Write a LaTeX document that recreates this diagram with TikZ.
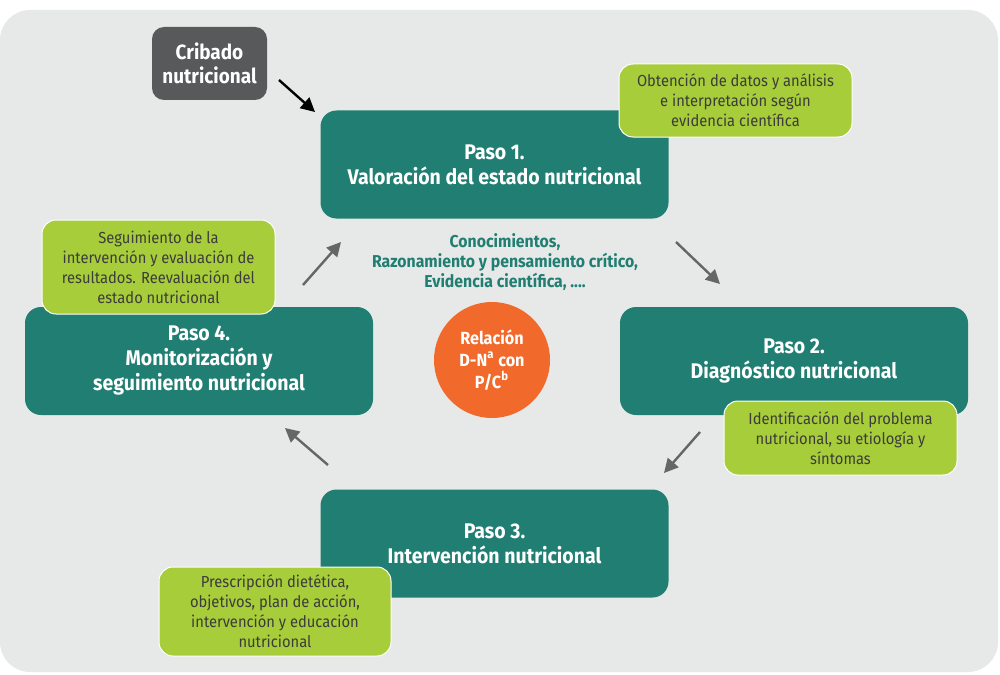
\documentclass[tikz,border=0pt]{standalone}
\usepackage{fontspec}
\setmainfont{Fira Sans}[FakeStretch=0.92]
\usetikzlibrary{arrows.meta}

\definecolor{fondo}{HTML}{E6E9E8}
\definecolor{verdeazul}{HTML}{217E72}
\definecolor{lima}{HTML}{A7CD3A}
\definecolor{grisoscuro}{HTML}{58595B}
\definecolor{naranja}{HTML}{F26A2B}
\definecolor{gristexto}{HTML}{3C3C3B}
\definecolor{grisflecha}{HTML}{666666}

\tikzset{
  paso/.style={fill=verdeazul, rounded corners=8pt, text=white, align=center,
    minimum width=174pt, minimum height=54pt,
    font=\bfseries\fontsize{10.6}{12.5}\selectfont},
  nota/.style={fill=lima, draw=white, line width=0.5pt, rounded corners=7pt,
    text=gristexto, align=center, inner sep=2pt,
    font=\fontsize{8}{10}\selectfont},
  flecha/.style={-{Triangle[length=7pt,width=7pt]}, line width=1.2pt, draw=grisflecha},
}

\begin{document}
\begin{tikzpicture}[x=0.5pt, y=-0.5pt]
  \useasboundingbox (0,0) rectangle (1000,674);
  \fill[fondo, rounded corners=15pt] (0,10) rectangle (998,672);

  % pasos del proceso
  \node[paso] (paso1) at (494.5,164.5) {Paso 1.\\Valoración del estado nutricional};
  \node[paso] (paso2) at (794,361) {Paso 2.\\Diagnóstico nutricional};
  \node[paso] (paso3) at (494.5,543.5) {Paso 3.\\Intervención nutricional};
  \node[paso] (paso4) at (199,361) {Paso 4.\\Monitorización y\\seguimiento nutricional};

  % notas
  \node[nota, minimum width=116.5pt, minimum height=36.5pt] (nota1) at (735.5,100.5)
    {Obtención de datos y análisis\\e interpretación según\\evidencia científica};
  \node[nota, minimum width=116.5pt, minimum height=37pt] (nota2) at (840.5,438)
    {Identificación del problema\\nutricional, su etiología y\\síntomas};
  \node[nota, minimum width=116pt, minimum height=44.5pt] (nota3) at (275,611.5)
    {Prescripción dietética,\\objetivos, plan de acción,\\intervención y educación\\nutricional};
  \node[nota, minimum width=116.5pt, minimum height=47pt] (nota4) at (158.5,267)
    {Seguimiento de la\\intervención y evaluación de\\resultados. Reevaluación del\\estado nutricional};

  % cribado
  \node[fill=grisoscuro, rounded corners=6pt, text=white, align=center,
    minimum width=57.5pt, minimum height=36.5pt,
    font=\bfseries\fontsize{10.3}{12}\selectfont] (cribado) at (209.5,63.5) {Cribado\\nutricional};

  % centro
  \node[text=verdeazul, align=center, font=\bfseries\fontsize{8.6}{10}\selectfont] (saberes) at (505,262)
    {Conocimientos,\\Razonamiento y pensamiento crítico,\\Evidencia científica, ....};
  \node[circle, fill=naranja, minimum size=58pt, inner sep=0pt, text=white, align=center,
    font=\bfseries\fontsize{8.8}{11}\selectfont] (relacion) at (492,360)
    {Relación\\D-N\textsuperscript{a} con\\P/C\textsuperscript{b}};

  % flechas
  \coordinate (c0a) at (279,80);   \coordinate (c0b) at (315,112);
  \coordinate (c1a) at (676,242);  \coordinate (c1b) at (720,284);
  \coordinate (c2a) at (700,432);  \coordinate (c2b) at (664,473);
  \coordinate (c3a) at (328,465);  \coordinate (c3b) at (285,428);
  \coordinate (c4a) at (303,285);  \coordinate (c4b) at (341,242);
  \draw[flecha, draw=black] (c0a) -- (c0b);
  \draw[flecha] (c1a) -- (c1b);
  \draw[flecha] (c2a) -- (c2b);
  \draw[flecha] (c3a) -- (c3b);
  \draw[flecha] (c4a) -- (c4b);
\end{tikzpicture}
\end{document}
